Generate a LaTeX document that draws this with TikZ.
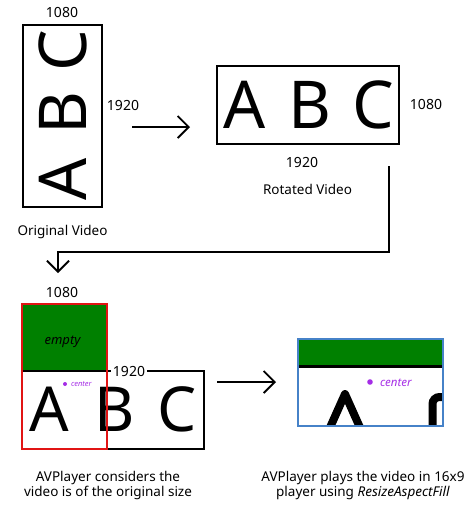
\documentclass[tikz,border=0pt]{standalone}
\usepackage{fontspec}
\setmainfont{Noto Sans}
\usetikzlibrary{arrows.meta}
\definecolor{vgreen}{RGB}{0,128,0}
\definecolor{vred}{RGB}{225,20,20}
\definecolor{vblue}{RGB}{70,130,200}
\definecolor{vpurple}{RGB}{165,45,230}
\begin{document}
\begin{tikzpicture}[x=1pt,y=-1pt,
  every node/.style={inner sep=0pt,outer sep=0pt},
  frame/.style={draw=black,line width=1.8pt},
  dimlab/.style={font=\fontsize{14}{14}\selectfont,anchor=base},
  caplab/.style={font=\fontsize{13.5}{15}\selectfont,anchor=base},
  bigletter/.style={font=\fontsize{66}{66}\selectfont},
  midletter/.style={font=\fontsize{62}{62}\selectfont},
  conn/.style={line width=1.8pt,-{Straight Barb[length=11pt,width=22pt,line width=1.8pt]}},
  ]
\useasboundingbox (0,0) rectangle (474,517);
% ---------- original video
\node[frame,minimum width=79pt,minimum height=182pt] (orig) at (62.5,116) {};
\node[bigletter,rotate=90] (oA) at (63,179) {A};
\node[bigletter,rotate=90] (oB) at (63,113) {B};
\node[bigletter,rotate=90] (oC) at (63,51) {C};
\node[dimlab] (o1080) at (62,17) {1080};
\node[dimlab] (o1920) at (123,110) {1920};
\node[caplab] (olab) at (62.5,235) {Original Video};
% arrow 1
\coordinate (a1s) at (132,127);
\coordinate (a1e) at (190,127);
\draw[conn] (a1s) -- (a1e);
% ---------- rotated video
\node[frame,minimum width=182pt,minimum height=78pt] (rot) at (308,105) {};
\node[bigletter] (rA) at (245,104.5) {A};
\node[bigletter] (rB) at (310,104.5) {B};
\node[bigletter] (rC) at (373,104.5) {C};
\node[dimlab] (r1080) at (426,109) {1080};
\node[dimlab] (r1920) at (302,167) {1920};
\node[caplab] (rlab) at (307.5,194) {Rotated Video};
% elbow connector
\coordinate (e0) at (389,166);
\coordinate (e1) at (389,252);
\coordinate (e2) at (58,252);
\coordinate (e3) at (58,273);
\draw[conn] (e0) -- (e1) -- (e2) -- (e3);
% ---------- AVPlayer considers
\node[fill=vgreen,minimum width=85pt,minimum height=67pt] (empt) at (64.5,337.5) {};
\node[frame,minimum width=182pt,minimum height=78pt] (land) at (113,410) {};
\node[font=\fontsize{13}{13}\selectfont\itshape,anchor=base] (emptylab) at (62.5,344) {empty};
\node[midletter] (lA) at (49.5,409) {A};
\node[midletter] (lB) at (115,409) {B};
\node[midletter] (lC) at (177,409) {C};
\node[draw=vred,line width=1.6pt,minimum width=85pt,minimum height=145pt] (red) at (64.5,376.5) {};
\node[dimlab,fill=white,inner xsep=2pt,inner ysep=1pt,anchor=center] (l1920) at (129,371) {1920};
\node[dimlab] (l1080) at (62,297) {1080};
\fill[vpurple] (65,384) circle (2pt);
\node[font=\fontsize{7.5}{7.5}\selectfont\itshape,text=vpurple,anchor=base west] (lcen) at (71,386.5) {center};
\node[caplab,align=center,anchor=north] (llab) at (108,471) {AVPlayer considers the\\video is of the original size};
% arrow 2
\coordinate (a2s) at (217,382);
\coordinate (a2e) at (276,382);
\draw[conn] (a2s) -- (a2e);
% ---------- AVPlayer plays (aspect fill)
\begin{scope}
\clip (298,339) rectangle (443,426);
\fill[vgreen] (298,339) rectangle (443,365);
\fill[black] (298,365) rectangle (443,368);
\draw[line width=8pt,line join=round] (328,432) -- (345,394) -- (362,432);
\draw[line width=8pt,rounded corners=7pt] (432.5,432) -- (432.5,397) -- (452,397);
\end{scope}
\node[draw=vblue,line width=1.5pt,minimum width=145pt,minimum height=87pt] (player) at (370.5,382.5) {};
\fill[vpurple] (370,382) circle (2.8pt);
\node[font=\fontsize{11.5}{11.5}\selectfont\itshape,text=vpurple,anchor=base west] (pcen) at (380,386) {center};
\node[caplab,align=center,anchor=north] (rlab2) at (363,471) {AVPlayer plays the video in 16x9\\player using \textit{ResizeAspectFill}};
\end{tikzpicture}
\end{document}
